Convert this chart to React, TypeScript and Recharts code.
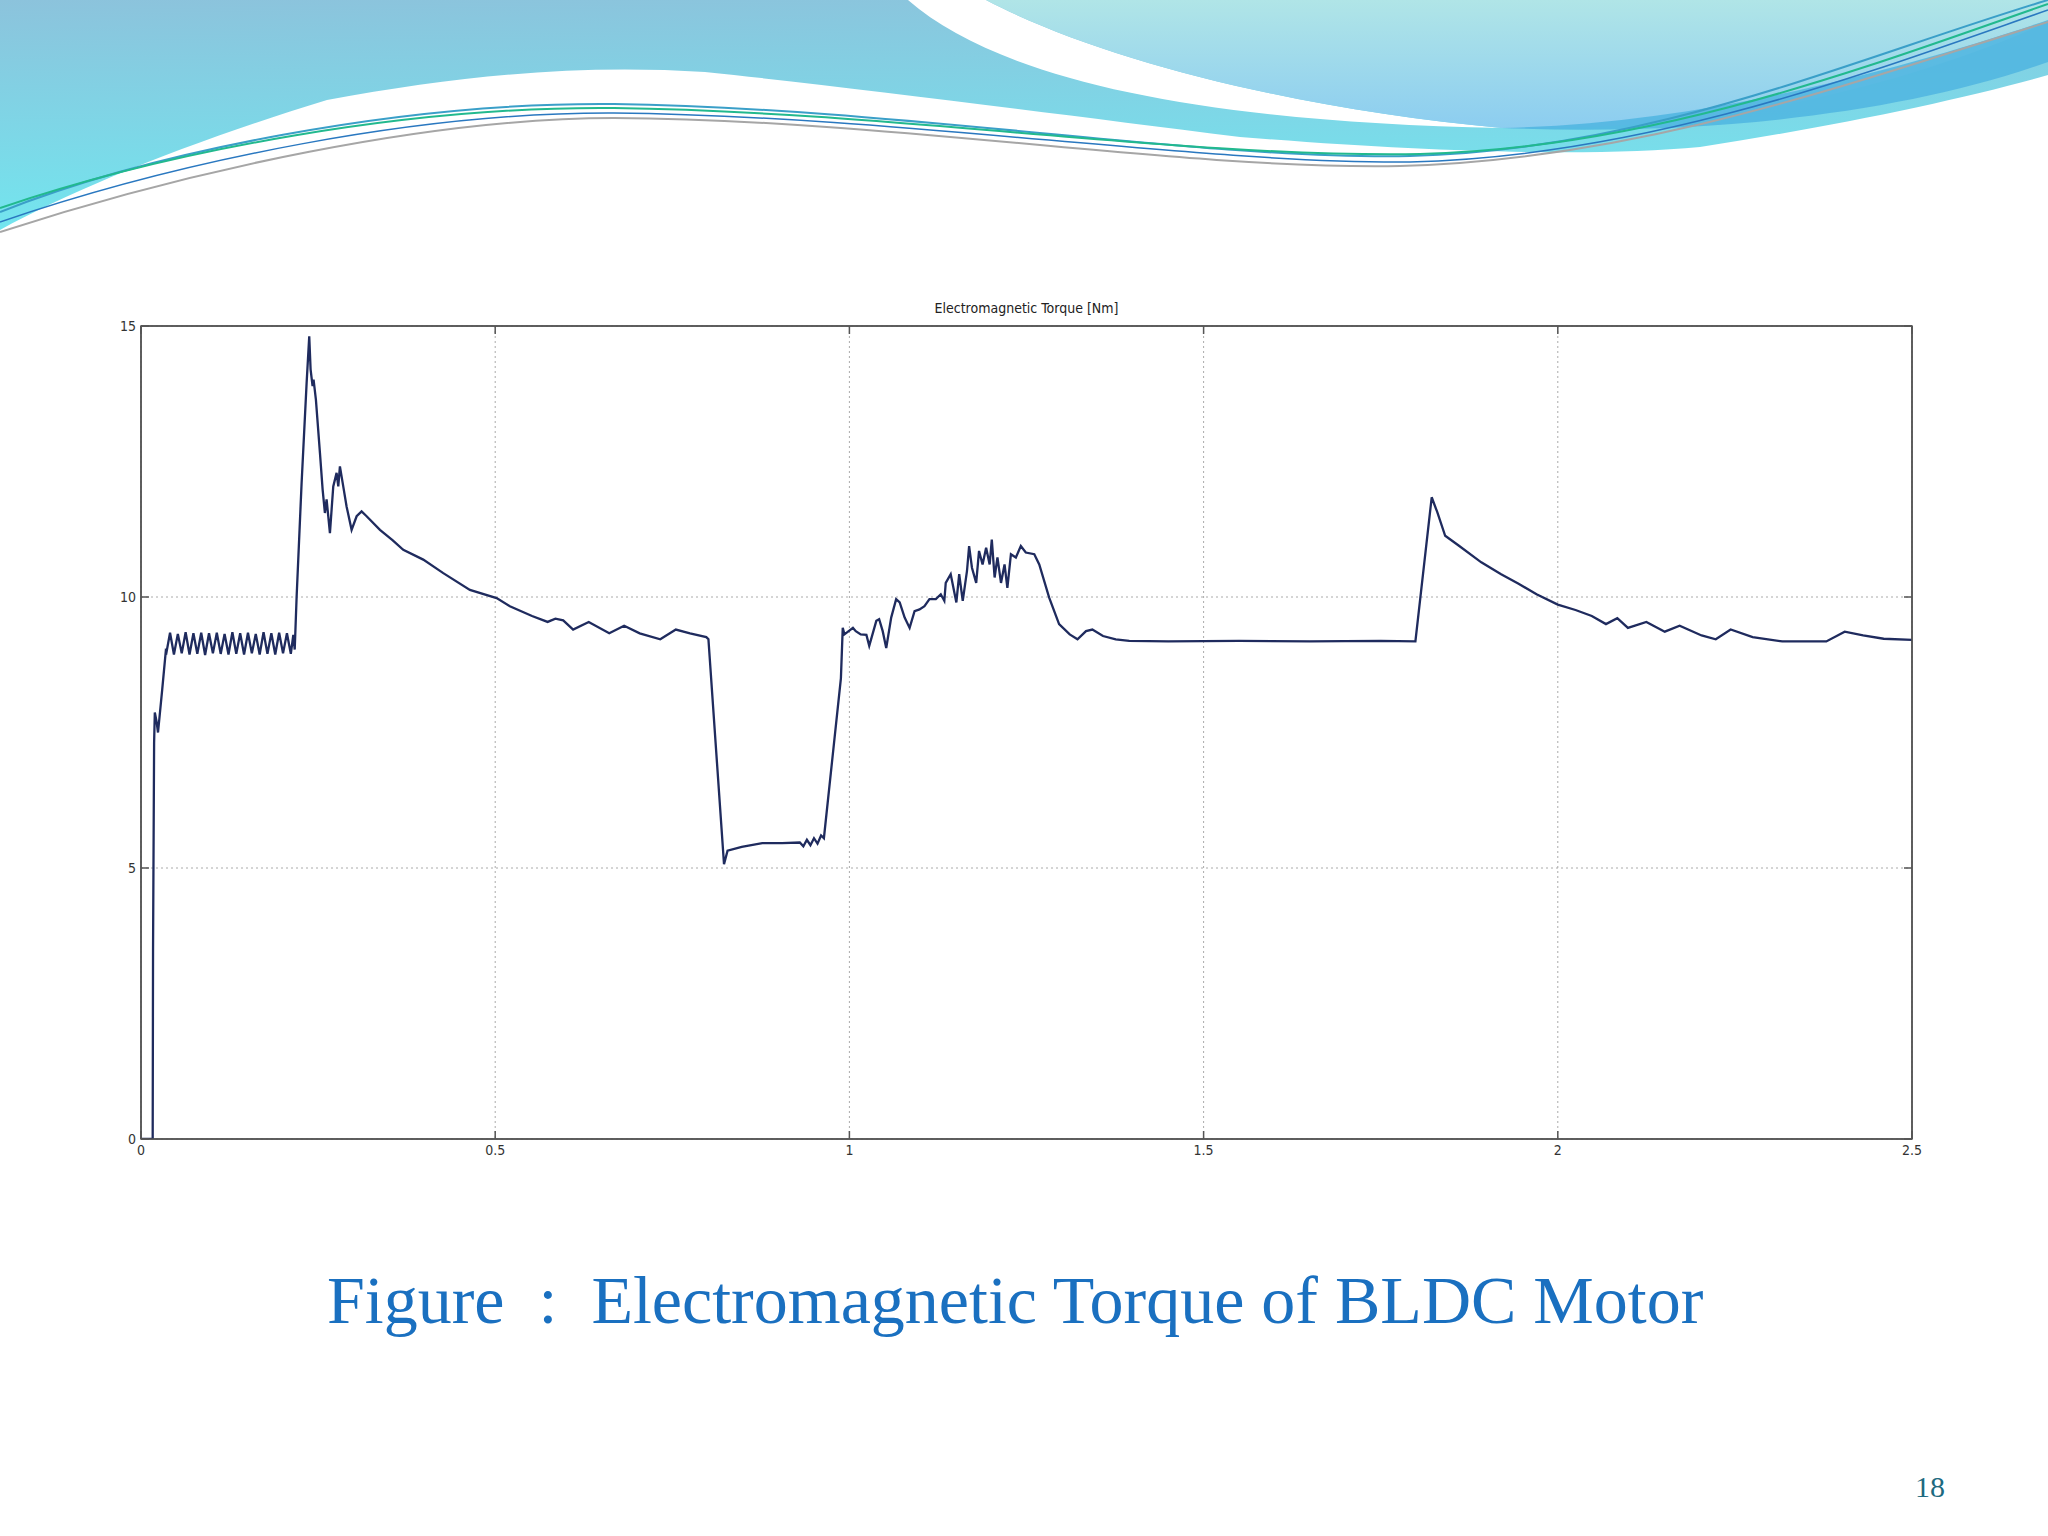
import { LineChart, Line, XAxis, YAxis, CartesianGrid, ReferenceArea } from 'recharts';

// simulated electromagnetic torque of the BLDC motor
const timeSec = [
  0, 0.0165, 0.017, 0.0185, 0.0195, 0.022, 0.024, 0.03, 0.035,
  0.036, 0.041, 0.0465, 0.052, 0.0575, 0.063, 0.0685, 0.074, 0.0795, 0.085,
  0.0905, 0.096, 0.1015, 0.107, 0.1125, 0.118, 0.1235, 0.129, 0.1345, 0.14,
  0.1455, 0.151, 0.1565, 0.162, 0.1675, 0.173, 0.1785, 0.184, 0.1895, 0.195,
  0.2005, 0.206, 0.2115, 0.215, 0.217,
  0.2197, 0.2267, 0.2338, 0.2375, 0.2394, 0.2422, 0.2436, 0.2469, 0.2526, 0.2564,
  0.2596, 0.262, 0.2667, 0.2714, 0.2761, 0.2785, 0.2808, 0.2855, 0.2902, 0.2973,
  0.3044, 0.3114, 0.3185, 0.3373, 0.355, 0.3702, 0.3984, 0.4267, 0.4643, 0.502,
  0.5207, 0.552, 0.574, 0.585, 0.596, 0.61, 0.632, 0.661, 0.682, 0.704,
  0.733, 0.755, 0.775, 0.798, 0.801,
  0.823, 0.828, 0.848, 0.877, 0.905, 0.93, 0.935, 0.94, 0.945, 0.95, 0.955, 0.96, 0.964,
  0.988, 0.9906, 0.993, 1.005, 1.009, 1.016, 1.024, 1.028, 1.038, 1.042, 1.047,
  1.052, 1.059, 1.066, 1.071, 1.078, 1.085, 1.092, 1.099, 1.106, 1.113,
  1.122, 1.129, 1.134, 1.136, 1.143, 1.151, 1.155, 1.16, 1.166, 1.169,
  1.173, 1.179, 1.183, 1.188, 1.193, 1.198, 1.201, 1.205, 1.209, 1.214,
  1.219, 1.223, 1.228, 1.235, 1.242, 1.249, 1.261, 1.268, 1.282, 1.296,
  1.311, 1.322, 1.334, 1.343, 1.358, 1.376, 1.395, 1.45, 1.55, 1.65, 1.75, 1.799,
  1.822, 1.83, 1.841, 1.86, 1.892, 1.92, 1.944, 1.97, 2.0, 2.025,
  2.048, 2.068, 2.084, 2.099, 2.125, 2.151, 2.172, 2.203, 2.223, 2.244,
  2.275, 2.317, 2.379, 2.405, 2.431, 2.46, 2.5,
];

const torqueNm = [
  0, 0, 3.5, 7.3, 7.87, 7.7, 7.5, 8.3, 9.0,
  8.98, 9.34, 8.94, 9.32, 8.96, 9.35, 8.94, 9.33, 8.95, 9.34,
  8.93, 9.33, 8.96, 9.34, 8.95, 9.32, 8.94, 9.35, 8.95, 9.33,
  8.94, 9.34, 8.96, 9.32, 8.94, 9.35, 8.95, 9.33, 8.94, 9.34,
  8.96, 9.33, 8.95, 9.3, 9.03,
  10.01, 12.1, 13.95, 14.81, 14.2, 13.89, 14.01, 13.64, 12.66, 11.98,
  11.55, 11.8, 11.18, 12.04, 12.29, 12.04, 12.41, 12.04, 11.67, 11.24,
  11.49, 11.58, 11.49, 11.24, 11.05, 10.87, 10.69, 10.44, 10.13, 9.98,
  9.83, 9.65, 9.54, 9.6, 9.57, 9.4, 9.54, 9.33, 9.47, 9.33,
  9.22, 9.4, 9.33, 9.26, 9.22,
  5.07, 5.32, 5.39, 5.46, 5.46, 5.47, 5.4, 5.52, 5.42, 5.55, 5.45, 5.6, 5.55,
  8.5, 9.43, 9.31, 9.43, 9.37, 9.31, 9.3, 9.1, 9.56, 9.59, 9.37,
  9.06, 9.62, 9.96, 9.9, 9.62, 9.43, 9.74, 9.77, 9.83, 9.96,
  9.96, 10.05, 9.93, 10.26, 10.42, 9.9, 10.42, 9.93, 10.48, 10.94,
  10.54, 10.26, 10.85, 10.6, 10.91, 10.6, 11.06, 10.36, 10.73, 10.26,
  10.6, 10.17, 10.79, 10.73, 10.94, 10.82, 10.79, 10.6, 9.99, 9.5,
  9.31, 9.22, 9.37, 9.4, 9.28, 9.22, 9.19, 9.18, 9.19, 9.18, 9.19, 9.18,
  11.84, 11.56, 11.13, 10.95, 10.64, 10.42, 10.25, 10.05, 9.86, 9.76,
  9.65, 9.5, 9.61, 9.43, 9.54, 9.36, 9.47, 9.29, 9.22, 9.4,
  9.26, 9.18, 9.18, 9.36, 9.29, 9.23, 9.21,
];

const xTicks = [0, 0.5, 1, 1.5, 2, 2.5];
const yTicks = [0, 5, 10, 15];

const chartTitle = 'Electromagnetic Torque [Nm]';
const caption = 'Figure  :  Electromagnetic Torque of BLDC Motor';
const pageNo = '18';

const data = timeSec.map((t, i) => ({ t, torque: torqueNm[i] }));

const tickFont = {
  fontSize: 14,
  fill: '#333',
  fontFamily: "'DejaVu Sans Condensed', 'Liberation Sans Narrow', 'Liberation Sans', sans-serif",
};

function SlideWaves() {
  return (
    <svg width={2048} height={240} style={{ position: 'absolute', left: 0, top: 0 }}>
      <defs>
        <linearGradient id="waveA" x1="0" y1="0" x2="0.15" y2="1">
          <stop offset="0" stopColor="#8cc3dc" />
          <stop offset="1" stopColor="#72e6ef" />
        </linearGradient>
        <linearGradient id="waveB" x1="0" y1="0" x2="0" y2="1">
          <stop offset="0" stopColor="#b0e5e7" />
          <stop offset="1" stopColor="#8ccdf0" />
        </linearGradient>
      </defs>
      <path
        d="M0,0 H2048 V75 C1960,100 1830,127 1700,147 C1600,156 1450,154 1240,137 C1040,112 850,87 705,72 C575,64 457,76 327,100 C196,140 78,187 0,230 Z"
        fill="url(#waveA)"
      />
      <path d="M908,0 C1000,80 1200,122 1502,128 C1300,110 1100,60 986,0 Z" fill="#ffffff" />
      <path
        d="M986,0 H2048 V22 C1930,75 1780,115 1640,124 C1580,128 1540,129 1502,128 C1300,110 1100,60 986,0 Z"
        fill="url(#waveB)"
      />
      <path d="M1502,128 C1700,124 1900,70 2048,20 V62 C1900,115 1700,136 1502,128 Z" fill="#4fb5e0" opacity={0.85} />
      <path d="M0,212 C150,152 400,102 614,104 C900,108 1200,160 1410,156 C1650,150 1850,60 2048,0" stroke="#3a9fc8" strokeWidth={2} fill="none" />
      <path d="M0,222 C180,160 420,112 614,113 C900,116 1200,164 1410,162 C1650,156 1870,72 2048,10" stroke="#2a78c0" strokeWidth={1.5} fill="none" />
      <path d="M0,208 C170,150 410,106 614,108 C900,112 1180,158 1420,154 C1660,148 1880,62 2048,4" stroke="#22b98e" strokeWidth={2} fill="none" />
      <path d="M0,232 C190,170 430,118 614,118 C900,120 1180,170 1400,166 C1640,160 1860,80 2048,22" stroke="#a6a6a6" strokeWidth={2} fill="none" />
    </svg>
  );
}

export default function App() {
  return (
    <div style={{ position: 'relative', width: 2048, height: 1536, background: '#fff', overflow: 'hidden' }}>
      <style>{'body{margin:0}'}</style>
      <SlideWaves />
      <div
        style={{
          position: 'absolute',
          left: 0,
          top: 300,
          width: 2053,
          textAlign: 'center',
          fontSize: 14,
          color: '#222',
          fontFamily: "'DejaVu Sans Condensed', 'Liberation Sans Narrow', 'Liberation Sans', sans-serif",
        }}
      >
        {chartTitle}
      </div>
      <div style={{ position: 'absolute', left: 0, top: 0 }}>
        <LineChart width={2048} height={1536} data={data} margin={{ top: 325, right: 135, bottom: 367, left: 101 }}>
          <CartesianGrid stroke="#aaa" strokeDasharray="2 3" />
          <ReferenceArea x1={0} x2={2.5} y1={0} y2={15} fill="none" stroke="#555" strokeWidth={1.5} ifOverflow="visible" />
          <XAxis
            dataKey="t"
            type="number"
            domain={[0, 2.5]}
            ticks={xTicks}
            allowDataOverflow
            height={30}
            tickSize={-8}
            tickMargin={14}
            stroke="#555"
            strokeWidth={1.5}
            tick={tickFont}
          />
          <XAxis
            xAxisId="top"
            orientation="top"
            dataKey="t"
            type="number"
            domain={[0, 2.5]}
            ticks={xTicks}
            allowDataOverflow
            height={1}
            tickSize={-8}
            tickFormatter={() => ''}
            stroke="#555"
            strokeWidth={1.5}
          />
          <YAxis
            type="number"
            domain={[0, 15]}
            ticks={yTicks}
            allowDataOverflow
            width={40}
            tickSize={-8}
            tickMargin={13}
            stroke="#555"
            strokeWidth={1.5}
            tick={tickFont}
          />
          <YAxis
            yAxisId="right"
            orientation="right"
            type="number"
            domain={[0, 15]}
            ticks={yTicks}
            allowDataOverflow
            width={1}
            tickSize={-8}
            tickFormatter={() => ''}
            stroke="#555"
            strokeWidth={1.5}
          />
          <Line
            type="linear"
            dataKey="torque"
            stroke="#1f2b5e"
            strokeWidth={2.3}
            dot={false}
            activeDot={false}
            isAnimationActive={false}
          />
        </LineChart>
      </div>
      <svg width={2048} height={1536} style={{ position: 'absolute', left: 0, top: 0, pointerEvents: 'none' }}>
        <text
          x={327}
          y={1323}
          fontFamily="'Liberation Serif', 'Times New Roman', serif"
          fontSize={68}
          fill="#1a70c0"
          style={{ whiteSpace: 'pre' }}
        >
          {caption}
        </text>
        <text
          x={1930}
          y={1497}
          textAnchor="middle"
          fontFamily="'Liberation Serif', 'Times New Roman', serif"
          fontSize={30}
          fill="#1e6a80"
        >
          {pageNo}
        </text>
      </svg>
    </div>
  );
}
